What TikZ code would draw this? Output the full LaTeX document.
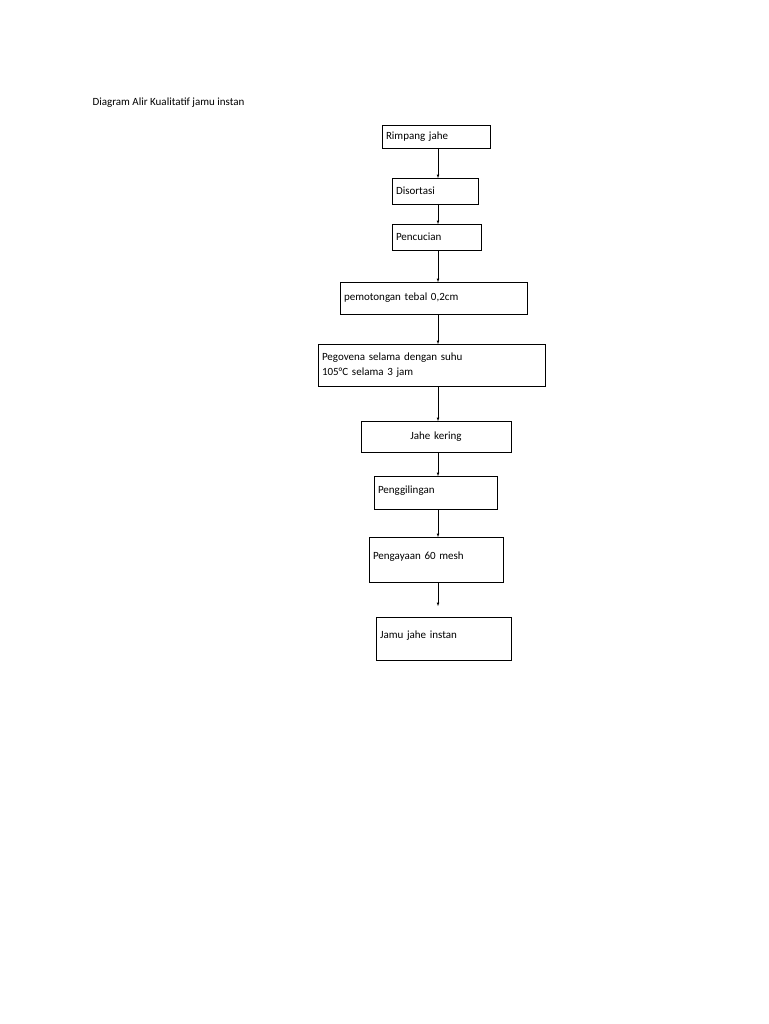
\documentclass[tikz,border=0pt]{standalone}
\usepackage{fontspec}
\setmainfont{Carlito}
\usetikzlibrary{positioning}
\begin{document}
\begin{tikzpicture}[x=1pt,y=-1pt,
  box/.style={draw,thin,anchor=north west,inner sep=3pt,outer sep=0pt,font=\fontsize{11}{15}\selectfont},
  arr/.style={->,>=latex,very thin}]
\useasboundingbox (0,0) rectangle (768,1024);
\node[anchor=west,font=\fontsize{11}{13}\selectfont] (title) at (89,103) {Diagram Alir Kualitatif jamu instan};
\newcommand{\stepbox}[6]{\node[box,minimum width=#4pt,minimum height=#5pt,text width=#4pt-8pt,align=#6] (#1) at (#2,#3) {};
  \node[anchor=north west,font=\fontsize{11}{15}\selectfont,align=left] at (#2+8,#3+3) {};}
\node[box,minimum width=108pt,minimum height=23pt,text width=100pt,align=left] (rimpang) at (382,125) {Rimpang jahe};
\node[box,minimum width=86pt,minimum height=26pt,text width=78pt,align=left] (sortasi) at (392,178) {Disortasi};
\node[box,minimum width=89pt,minimum height=26pt,text width=81pt,align=left] (cuci) at (392,224) {Pencucian};
\node[box,minimum width=187pt,minimum height=32pt,text width=179pt,align=left] (potong) at (340,282) {pemotongan tebal 0,2cm};
\node[box,minimum width=227pt,minimum height=42pt,text width=219pt,align=left] (oven) at (318,344) {Pegovena selama dengan suhu\\105\textdegree C selama 3 jam};
\node[box,minimum width=150pt,minimum height=31pt,text width=142pt,align=center] (kering) at (361,421) {Jahe kering};
\node[box,minimum width=123pt,minimum height=33pt,text width=115pt,align=left] (giling) at (374,476) {\raisebox{5pt}{Penggilingan}};
\node[box,minimum width=134pt,minimum height=45pt,text width=126pt,align=left] (ayak) at (369,537) {\raisebox{8pt}{Pengayaan 60 mesh}};
\node[box,minimum width=135pt,minimum height=43pt,text width=127pt,align=left] (jamu) at (376,617) {\raisebox{8pt}{Jamu jahe instan}};
\foreach \a/\b in {rimpang/sortasi,sortasi/cuci,cuci/potong,potong/oven,oven/kering,kering/giling,giling/ayak}
  \draw[arr] (\a.south -| 438,0) -- (\b.north -| 438,0);
\draw[arr] (ayak.south -| 438,0) -- (438,606);
\end{tikzpicture}
\end{document}
